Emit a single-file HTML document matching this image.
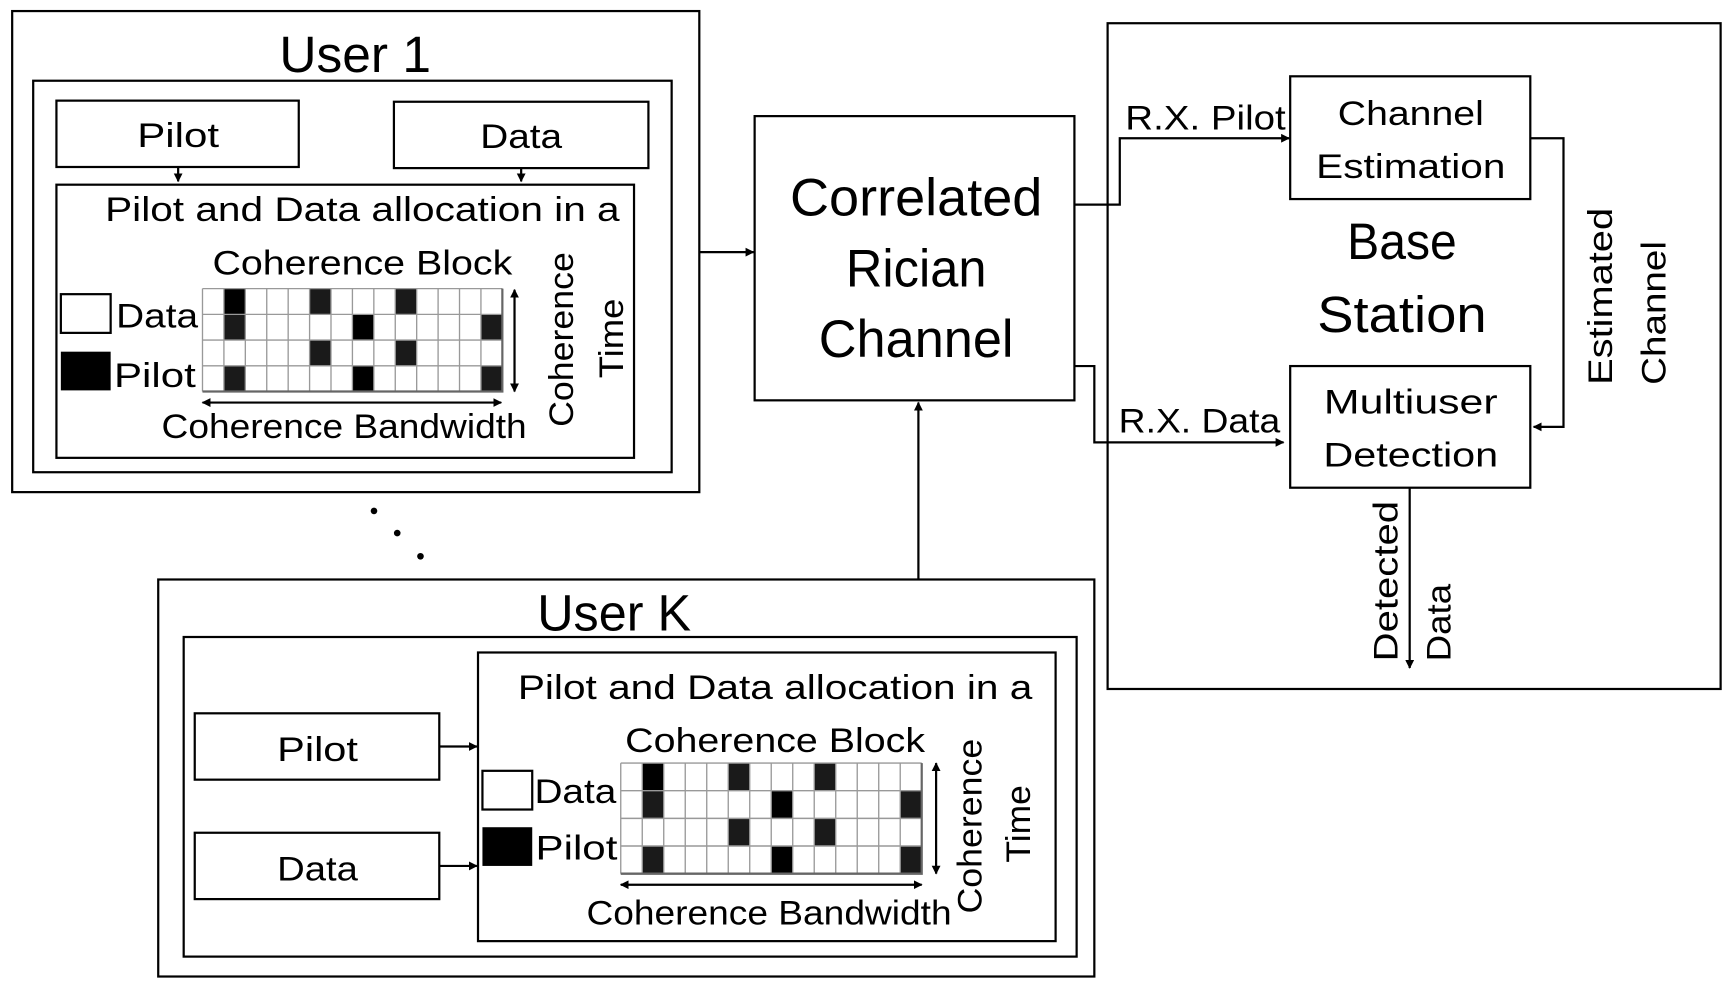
<!DOCTYPE html>
<html><head><meta charset="utf-8"><style>
html,body{margin:0;padding:0;background:#fff;}
svg{display:block;}
text{font-family:"Liberation Sans",sans-serif;fill:#000;}
</style></head><body>
<svg width="1735" height="992" viewBox="0 0 1568 897" preserveAspectRatio="none" xmlns="http://www.w3.org/2000/svg">
<defs>
<marker id="a" viewBox="0 0 10 10" refX="9" refY="5" markerWidth="8" markerHeight="8" markerUnits="userSpaceOnUse" orient="auto-start-reverse"><path d="M0,0 L10,5 L0,10 z" fill="#000"/></marker>
<g id="grid">
<rect x="0" y="0" width="271" height="93" fill="#fff"/>
<g fill="#1a1a1a">
<rect x="19.36" y="0" width="19.36" height="23.25" fill="#000"/><rect x="96.79" y="0" width="19.36" height="23.25"/><rect x="174.21" y="0" width="19.36" height="23.25"/>
<rect x="19.36" y="23.25" width="19.36" height="23.25"/><rect x="135.5" y="23.25" width="19.36" height="23.25" fill="#000"/><rect x="251.64" y="23.25" width="19.36" height="23.25"/>
<rect x="96.79" y="46.5" width="19.36" height="23.25"/><rect x="174.21" y="46.5" width="19.36" height="23.25"/>
<rect x="19.36" y="69.75" width="19.36" height="23.25"/><rect x="135.5" y="69.75" width="19.36" height="23.25" fill="#000"/><rect x="251.64" y="69.75" width="19.36" height="23.25"/>
</g>
<path d="M0,0V93M19.36,0V93M38.71,0V93M58.07,0V93M77.43,0V93M96.79,0V93M116.14,0V93M135.5,0V93M154.86,0V93M174.21,0V93M193.57,0V93M212.93,0V93M232.29,0V93M251.64,0V93M271,0V93M0,0H271M0,23.25H271M0,46.5H271M0,69.75H271M0,93H271" stroke="#999" stroke-width="1.2" fill="none"/>
<path d="M0,93H271V0" stroke="#666" stroke-width="2" fill="none"/>
</g>
</defs>
<g fill="none" stroke="#000" stroke-width="2">
<!-- User 1 -->
<rect x="11" y="10" width="621" height="435"/>
<rect x="30" y="73" width="577" height="354"/>
<rect x="51" y="91" width="219" height="60"/>
<rect x="356" y="92" width="230" height="60"/>
<rect x="51" y="167" width="522" height="247"/>
<rect x="55" y="266" width="45" height="35"/>
<!-- User K -->
<rect x="143" y="524" width="846" height="359"/>
<rect x="166" y="576" width="807" height="289"/>
<rect x="176" y="645" width="221" height="60"/>
<rect x="176" y="753" width="221" height="60"/>
<rect x="432" y="590" width="522" height="261"/>
<rect x="436" y="697" width="45" height="35"/>
<!-- Channel -->
<rect x="682" y="105" width="289" height="257"/>
<!-- Base -->
<rect x="1001" y="21" width="554" height="602"/>
<rect x="1166" y="69" width="217" height="111"/>
<rect x="1166" y="331" width="217" height="110"/>
</g>
<rect x="55" y="318" width="45" height="35" fill="#000"/>
<rect x="436" y="748" width="45" height="35" fill="#000"/>
<use href="#grid" transform="translate(183,261)"/>
<use href="#grid" transform="translate(561,690) scale(1.0037,1.075)"/>
<g fill="none" stroke="#000" stroke-width="2">
<path d="M161,151V164" marker-end="url(#a)"/>
<path d="M471,152V164" marker-end="url(#a)"/>
<path d="M465,262V354" marker-start="url(#a)" marker-end="url(#a)"/>
<path d="M183,364H453" marker-start="url(#a)" marker-end="url(#a)"/>
<path d="M397,675H431" marker-end="url(#a)"/>
<path d="M397,783H431" marker-end="url(#a)"/>
<path d="M846,690V790" marker-start="url(#a)" marker-end="url(#a)"/>
<path d="M561,800H833" marker-start="url(#a)" marker-end="url(#a)"/>
<path d="M632,228H681" marker-end="url(#a)"/>
<path d="M830,524V364" marker-end="url(#a)"/>
<path d="M971,185H1012V125H1165" marker-end="url(#a)"/>
<path d="M971,331H989V400H1160" marker-end="url(#a)"/>
<path d="M1383,125H1413V386H1386" marker-end="url(#a)"/>
<path d="M1274,441V604" marker-end="url(#a)"/>
</g>
<circle cx="338" cy="462" r="3" fill="#000"/><circle cx="359" cy="482" r="3" fill="#000"/><circle cx="380" cy="503" r="3" fill="#000"/>
<g font-size="31">
<text x="321" y="65" font-size="46" text-anchor="middle" textLength="137" lengthAdjust="spacingAndGlyphs">User 1</text>
<text x="161" y="133" text-anchor="middle" textLength="74" lengthAdjust="spacingAndGlyphs">Pilot</text>
<text x="471" y="134" text-anchor="middle" textLength="74" lengthAdjust="spacingAndGlyphs">Data</text>
<text x="95" y="200" textLength="465" lengthAdjust="spacingAndGlyphs">Pilot and Data allocation in a</text>
<text x="192" y="248" textLength="271" lengthAdjust="spacingAndGlyphs">Coherence Block</text>
<text x="105" y="296" textLength="74" lengthAdjust="spacingAndGlyphs">Data</text>
<text x="103" y="350" textLength="74" lengthAdjust="spacingAndGlyphs">Pilot</text>
<text x="146" y="396" textLength="330" lengthAdjust="spacingAndGlyphs">Coherence Bandwidth</text>
<text transform="translate(518,386) rotate(-90)" textLength="158" lengthAdjust="spacingAndGlyphs">Coherence</text>
<text transform="translate(563,342) rotate(-90)" textLength="72" lengthAdjust="spacingAndGlyphs">Time</text>

<text x="555" y="570" font-size="46" text-anchor="middle" textLength="139" lengthAdjust="spacingAndGlyphs">User K</text>
<text x="287" y="688" text-anchor="middle" textLength="73" lengthAdjust="spacingAndGlyphs">Pilot</text>
<text x="287" y="796" text-anchor="middle" textLength="73" lengthAdjust="spacingAndGlyphs">Data</text>
<text x="468" y="632" textLength="465" lengthAdjust="spacingAndGlyphs">Pilot and Data allocation in a</text>
<text x="565" y="680" textLength="271" lengthAdjust="spacingAndGlyphs">Coherence Block</text>
<text x="483" y="726" textLength="74" lengthAdjust="spacingAndGlyphs">Data</text>
<text x="484" y="777" textLength="74" lengthAdjust="spacingAndGlyphs">Pilot</text>
<text x="530" y="836" textLength="330" lengthAdjust="spacingAndGlyphs">Coherence Bandwidth</text>
<text transform="translate(887,826) rotate(-90)" textLength="158" lengthAdjust="spacingAndGlyphs">Coherence</text>
<text transform="translate(931,780) rotate(-90)" textLength="70" lengthAdjust="spacingAndGlyphs">Time</text>

<text x="828" y="195" font-size="48" text-anchor="middle" textLength="228" lengthAdjust="spacingAndGlyphs">Correlated</text>
<text x="828" y="259" font-size="48" text-anchor="middle" textLength="127" lengthAdjust="spacingAndGlyphs">Rician</text>
<text x="828" y="323" font-size="48" text-anchor="middle" textLength="176" lengthAdjust="spacingAndGlyphs">Channel</text>

<text x="1017" y="117" textLength="145" lengthAdjust="spacingAndGlyphs">R.X. Pilot</text>
<text x="1011" y="391" textLength="146" lengthAdjust="spacingAndGlyphs">R.X. Data</text>
<text x="1275" y="113" text-anchor="middle" textLength="132" lengthAdjust="spacingAndGlyphs">Channel</text>
<text x="1275" y="161" text-anchor="middle" textLength="171" lengthAdjust="spacingAndGlyphs">Estimation</text>
<text x="1275" y="374" text-anchor="middle" textLength="157" lengthAdjust="spacingAndGlyphs">Multiuser</text>
<text x="1275" y="422" text-anchor="middle" textLength="158" lengthAdjust="spacingAndGlyphs">Detection</text>
<text x="1267" y="234" font-size="46" text-anchor="middle" textLength="99" lengthAdjust="spacingAndGlyphs">Base</text>
<text x="1267" y="300" font-size="46" text-anchor="middle" textLength="153" lengthAdjust="spacingAndGlyphs">Station</text>
<text transform="translate(1457,348) rotate(-90)" textLength="160" lengthAdjust="spacingAndGlyphs">Estimated</text>
<text transform="translate(1505,348) rotate(-90)" textLength="130" lengthAdjust="spacingAndGlyphs">Channel</text>
<text transform="translate(1263,598) rotate(-90)" textLength="145" lengthAdjust="spacingAndGlyphs">Detected</text>
<text transform="translate(1311,598) rotate(-90)" textLength="70" lengthAdjust="spacingAndGlyphs">Data</text>
</g>
</svg>
</body></html>
